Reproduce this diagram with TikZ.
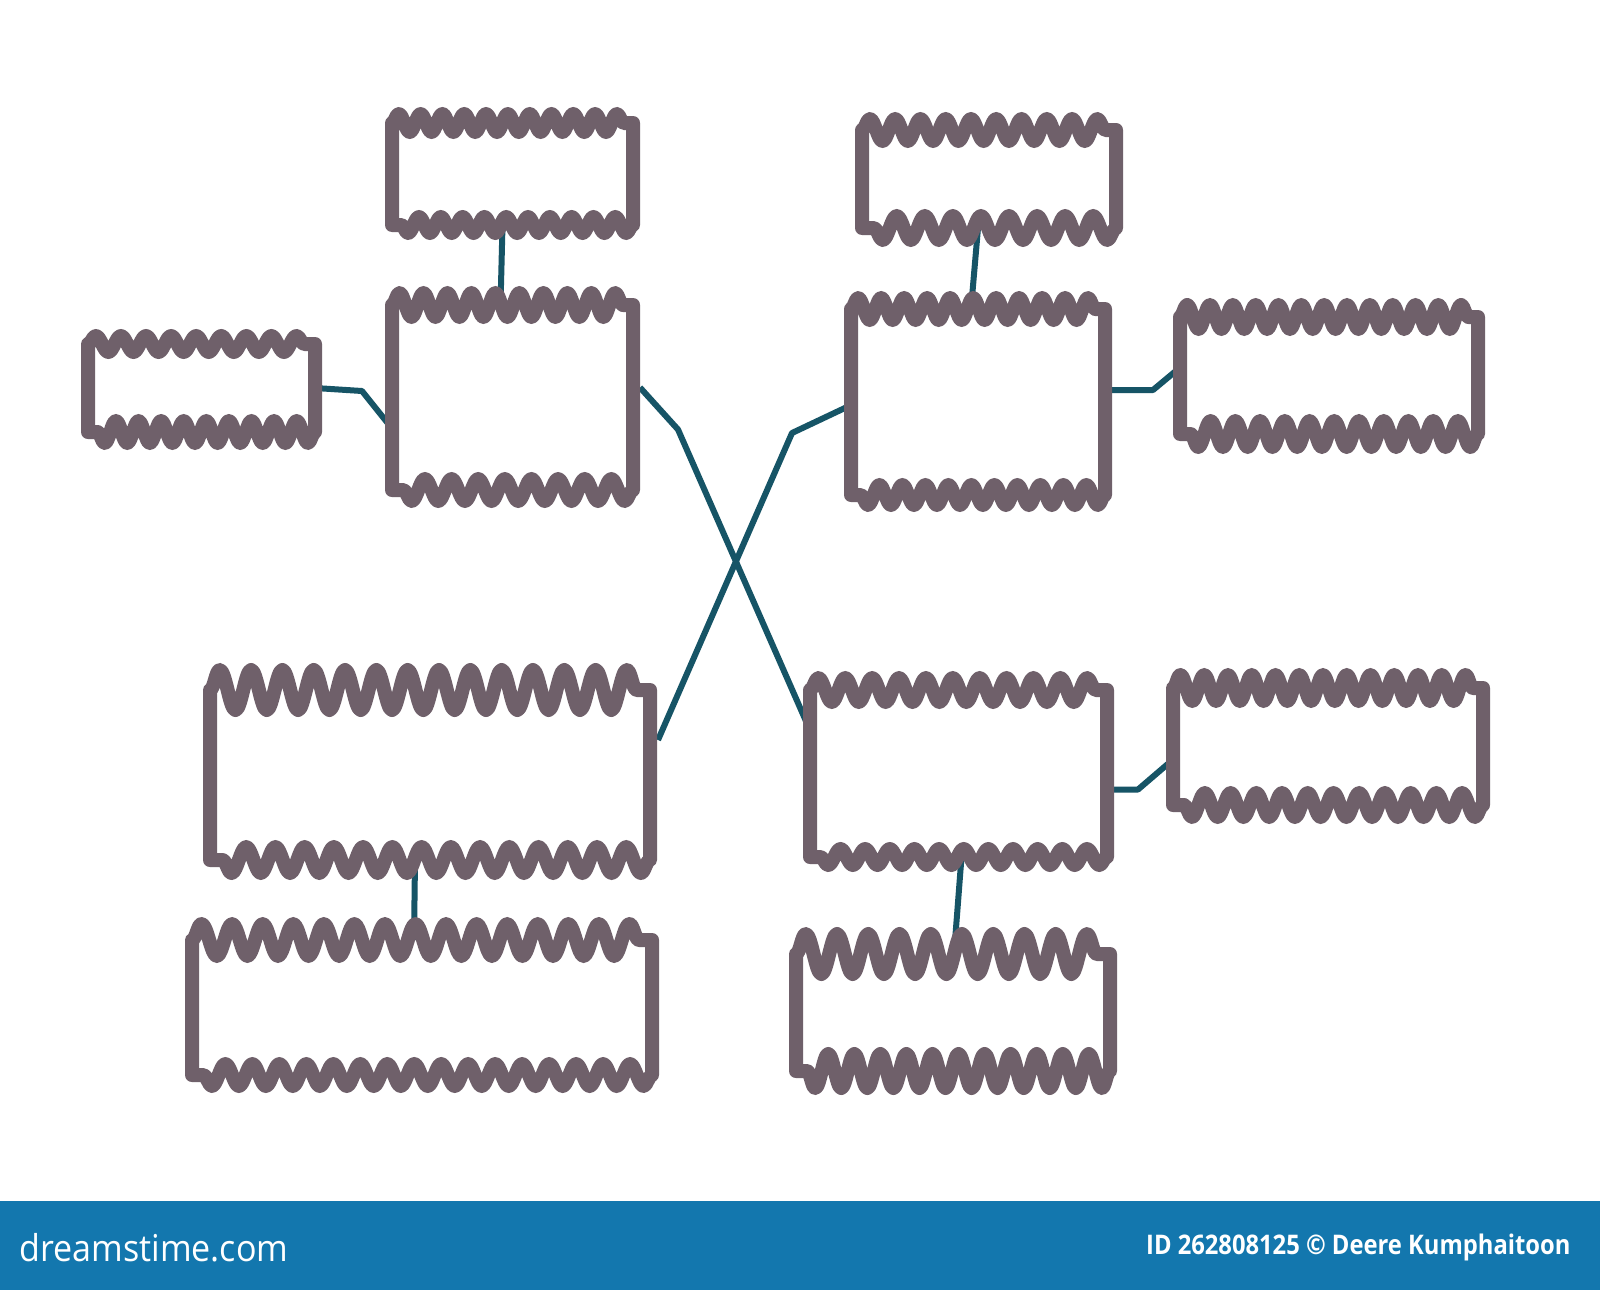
\documentclass[tikz,border=0pt]{standalone}
\usepackage{fontspec}
\newfontfamily\bannerfont{Open Sans}
\usetikzlibrary{calc,fit,decorations.pathmorphing}
\definecolor{boxgrey}{RGB}{111,96,106}
\definecolor{linkteal}{RGB}{22,84,102}
\definecolor{bannerblue}{RGB}{19,119,174}

\begin{document}
\begin{tikzpicture}
    [x=1pt, y=-1pt,
    panel/.style={inner sep=0pt, outer sep=0pt},
    frame/.style={draw=boxgrey, line width=14pt, line join=round, line cap=round},
    link/.style={draw=linkteal, line width=6pt, line join=round}]
  \useasboundingbox (0,0) rectangle (1600,1290);
  \fill [white] (0,0) rectangle (1600,1290);

  \node [panel, fit={(392,123) (633,225)}] (a) {};
  \node [panel, fit={(392,305) (633,490)}] (b) {};
  \node [panel, fit={(88,344) (315,432)}] (c) {};
  \node [panel, fit={(862,130) (1116,228)}] (d) {};
  \node [panel, fit={(851,309) (1105,495)}] (e) {};
  \node [panel, fit={(1180,317) (1478,434)}] (f) {};
  \node [panel, fit={(210,690) (650,860)}] (g) {};
  \node [panel, fit={(192,940) (652,1075)}] (h) {};
  \node [panel, fit={(810,690) (1107,857)}] (i) {};
  \node [panel, fit={(1173,688) (1483,805)}] (j) {};
  \node [panel, fit={(796,954) (1110,1071)}] (k) {};

  \draw [link] ($(a.south)+(-10,0)$) -- ($(b.north)+(-12,0)$);
  \draw [link] (c.east) -- ($(c.east)+(47,3)$) -- ($(b.west)+(0,31)$);
  \draw [link] ($(b.east)+(7,-10)$) -- ($(b.east)+(45,32)$) -- ($(i.west)+(-3,-50)$);
  \draw [link] ($(e.west)+(-4,5)$) -- ($(e.west)+(-59,31)$) -- ($(g.east)+(8,-35)$);
  \draw [link] ($(e.east)+(0,-12)$) -- ($(e.east)+(48,-12)$) -- ($(f.west)+(0,-8)$);
  \draw [link] ($(d.south)+(-11,0)$) -- ($(e.north)+(-7,0)$);
  \draw [link] ($(i.east)+(0,16)$) -- ($(i.east)+(31,16)$) -- ($(j.west)+(0,13)$);
  \draw [link] ($(g.south)+(-15,0)$) -- ($(h.north)+(-8,0)$);
  \draw [link] ($(i.south)+(3,0)$) -- ($(k.north)+(1,0)$);

  \foreach \nm/\at/\nt/\ab/\nb in {a/9/11/8/11, b/12/10/11/9, c/8/9/11/10,
      d/11/10/12/9, e/11/11/10/11, f/12/13/13/12, g/20/14/13/15,
      h/16/15/11/17, i/12/11/8/12, j/13/13/12/12, k/20/10/17/12}
    \draw [frame] let \p1=(\nm.north west), \p2=(\nm.north east) in
      (\nm.south west) -- (\p1)
      decorate [decoration={snake, amplitude=\at, segment length={(\x2-\x1)/(\nt+0.05)}}] {-- (\p2)}
      -- (\nm.south east)
      decorate [decoration={snake, amplitude=\ab, segment length={(\x2-\x1)/(\nb+0.05)}}] {-- (\nm.south west)};

  \fill [bannerblue] (0,1201) rectangle (1600,1290);
  \node [anchor=west, text=white, font=\bannerfont\fontsize{37}{39}\selectfont] (logo) at (16,1248) {\scalebox{0.92}[1]{dreamstime.com}};
  \node [anchor=east, text=white, font=\bannerfont\bfseries\fontsize{27}{30}\selectfont] (credit) at (1574,1247) {\scalebox{0.88}[1]{ID 262808125 © Deere Kumphaitoon}};
\end{tikzpicture}
\end{document}
